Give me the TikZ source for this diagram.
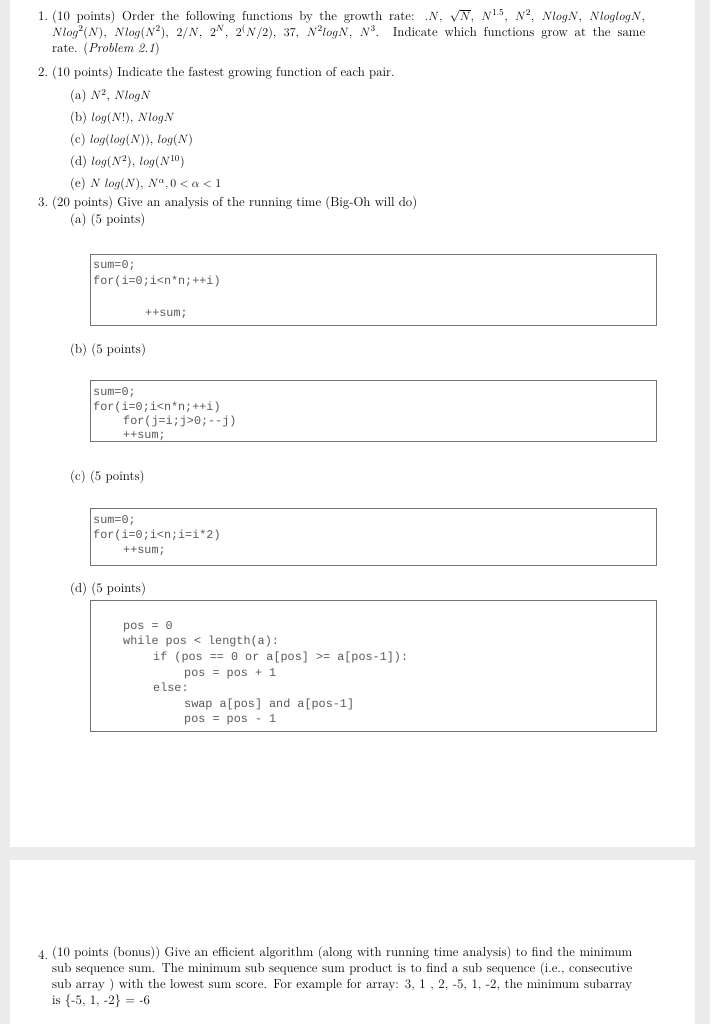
\documentclass[tikz,border=0pt]{standalone}
\usepackage{fontspec}
\setmonofont{Liberation Mono}
\begin{document}
\begin{tikzpicture}[x=1pt,y=-1pt,
  txt/.style={anchor=base west,inner sep=0pt,font=\fontsize{13}{16}\selectfont},
  par/.style={txt,text width=#1,align=justify},
  code/.style={anchor=base west,inner sep=0pt,font=\ttfamily\fontsize{11.8}{15}\selectfont,text=black!65},
  codebox/.style={draw=black!55,line width=0.8pt}]
\fill[black!8] (0,0) rectangle (710,1024);
\fill[white] (10,0) rectangle (695,847);
\fill[white] (10,860) rectangle (695,1024);
\useasboundingbox (0,0) rectangle (710,1024);
% item 1
\node[txt] (n1) at (38,21) {1.};
\node[par=593pt,anchor=north west] (t1) at (52,9) {(10 points) Order the following functions by the growth rate: $.N$, $\sqrt{N}$, $N^{1.5}$, $N^2$, $NlogN$, $NloglogN$,\linebreak $Nlog^2(N)$, $Nlog(N^2)$, $2/N$, $2^N$, $2^(N/2)$, $37$, $N^2logN$, $N^3$. Indicate which functions grow at the same\linebreak rate. (\textit{Problem 2.1})};
% item 2
\node[txt] (n2) at (38,77) {2.};
\node[txt] (t2) at (52,77) {(10 points) Indicate the fastest growing function of each pair.};
\node[txt] (a2) at (70,100) {(a) $N^2$, $NlogN$};
\node[txt] (b2) at (70,122) {(b) $log(N!)$, $NlogN$};
\node[txt] (c2) at (70,144) {(c) $log(log(N))$, $log(N)$};
\node[txt] (d2) at (70,166) {(d) $log(N^2)$, $log(N^{10})$};
\node[txt] (e2) at (70,188) {(e) $N\ log(N)$, $N^{\alpha}, 0<\alpha<1$};
% item 3
\node[txt] (n3) at (38,207) {3.};
\node[txt] (t3) at (52,207) {(20 points) Give an analysis of the running time (Big-Oh will do)};
\node[txt] (a3) at (70,223) {(a) (5 points)};
\draw[codebox] (90,254) rectangle (656,325);
\node[code] (c1a) at (93,268) {sum=0;};
\node[code] (c1b) at (93,284) {for(i=0;i<n*n;++i)};
\node[code] (c1c) at (145,316) {++sum;};
\node[txt] (b3) at (70,353) {(b) (5 points)};
\draw[codebox] (90,380) rectangle (656,441);
\node[code] (c2a) at (93,395) {sum=0;};
\node[code] (c2b) at (93,410) {for(i=0;i<n*n;++i)};
\node[code] (c2c) at (123,424) {for(j=i;j>0;--j)};
\node[code] (c2d) at (123,438) {++sum;};
\node[txt] (c3) at (70,480) {(c) (5 points)};
\draw[codebox] (90,508) rectangle (656,565);
\node[code] (c3a) at (93,523) {sum=0;};
\node[code] (c3b) at (93,538) {for(i=0;i<n;i=i*2)};
\node[code] (c3c) at (123,553) {++sum;};
\node[txt] (d3) at (70,592) {(d) (5 points)};
\draw[codebox] (90,600) rectangle (656,731);
\node[code] (c4a) at (123,629) {pos = 0};
\node[code] (c4b) at (123,644) {while pos < length(a):};
\node[code] (c4c) at (153,660) {if (pos == 0 or a[pos] >= a[pos-1]):};
\node[code] (c4d) at (184,676) {pos = pos + 1};
\node[code] (c4e) at (153,691) {else:};
\node[code] (c4f) at (184,707) {swap a[pos] and a[pos-1]};
\node[code] (c4g) at (184,722) {pos = pos - 1};
% item 4
\node[txt] (n4) at (38,959) {4.};
\node[par=580pt,anchor=north west] (t4) at (52,947) {(10 points (bonus)) Give an efficient algorithm (along with running time analysis) to find the minimum\linebreak sub sequence sum. The minimum sub sequence sum product is to find a sub sequence (i.e., consecutive\linebreak sub array ) with the lowest sum score. For example for array: 3, 1 , 2, -5, 1, -2, the minimum subarray\linebreak is \{-5, 1, -2\} = -6};
\end{tikzpicture}
\end{document}
